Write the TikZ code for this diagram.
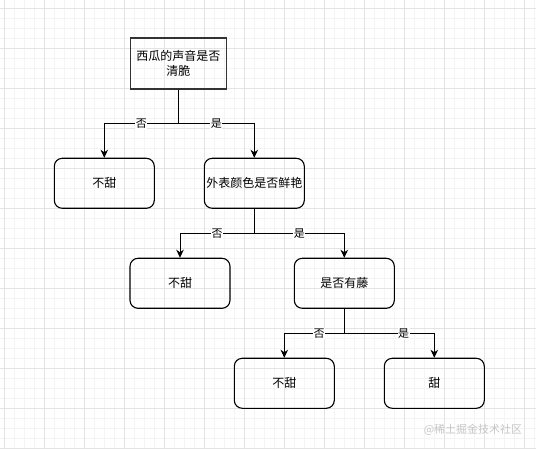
\documentclass[tikz,border=0pt]{standalone}
\usepackage{fontspec}
\newfontfamily\cjk{Noto Sans CJK SC}
\usetikzlibrary{arrows.meta}
\tikzset{
  gridminor/.style={gray!9, line width=0.5pt},
  gridmajor/.style={gray!22, line width=0.5pt},
  box/.style={draw, line width=1.1pt, rounded corners=8pt, minimum width=100pt, minimum height=50pt, inner sep=0pt, font=\cjk\fontsize{12}{15}\selectfont},
  rootbox/.style={draw=black!80, line width=1.2pt, minimum width=96pt, minimum height=51pt, inner sep=0pt, align=center, font=\cjk\fontsize{12}{15}\selectfont},
  arr/.style={-{Stealth[length=8pt,width=7.5pt,inset=2.5pt]}, line width=1pt},
  lbl/.style={fill=white, inner sep=0.5pt, font=\cjk\fontsize{11}{13}\selectfont}
}
\begin{document}
\begin{tikzpicture}[x=1pt,y=-1pt]
\useasboundingbox (0,0) rectangle (536,449);
\fill[white] (0,0) rectangle (536,449);

% background grid
\foreach \x in {4,14,...,534}
{
	\draw[gridminor] (\x,0) -- (\x,449);
}
\foreach \y in {8,18,...,448}
{
	\draw[gridminor] (0,\y) -- (536,\y);
}
\foreach \x in {4,44,...,524}
{
	\draw[gridmajor] (\x,0) -- (\x,449);
}
\foreach \y in {8,48,...,448}
{
	\draw[gridmajor] (0,\y) -- (536,\y);
}

% nodes
\node[rootbox] (root) at (178.3,63.5) {西瓜的声音是否\\清脆};
\node[box] (no1) at (104.3,183.3) {不甜};
\node[box] (color) at (254.3,183.3) {外表颜色是否鲜艳};
\node[box] (no2) at (180,283.3) {不甜};
\node[box] (vine) at (344.3,283.3) {是否有藤};
\node[box] (no3) at (284.3,383.3) {不甜};
\node[box] (sweet) at (434.3,383.3) {甜};

\coordinate (j1) at (178.3,123.3);
\coordinate (j2) at (254.3,233.3);
\coordinate (j3) at (344.3,333.3);

% connectors
\draw[arr] (root.south) -- (j1) -| node[lbl,pos=0.25] {否} (no1.north);
\draw[arr] (root.south) -- (j1) -| node[lbl,pos=0.25] {是} (color.north);
\draw[arr] (color.south) -- (j2) -| node[lbl,pos=0.25] {否} (no2.north);
\draw[arr] (color.south) -- (j2) -| node[lbl,pos=0.25] {是} (vine.north);
\draw[arr] (vine.south) -- (j3) -| node[lbl,pos=0.21] {否} (no3.north);
\draw[arr] (vine.south) -- (j3) -| node[lbl,pos=0.33] {是} (sweet.north);

\node[gray!45, font=\cjk\fontsize{11}{13}\selectfont] (mark) at (473,430) {@稀土掘金技术社区};
\end{tikzpicture}
\end{document}
